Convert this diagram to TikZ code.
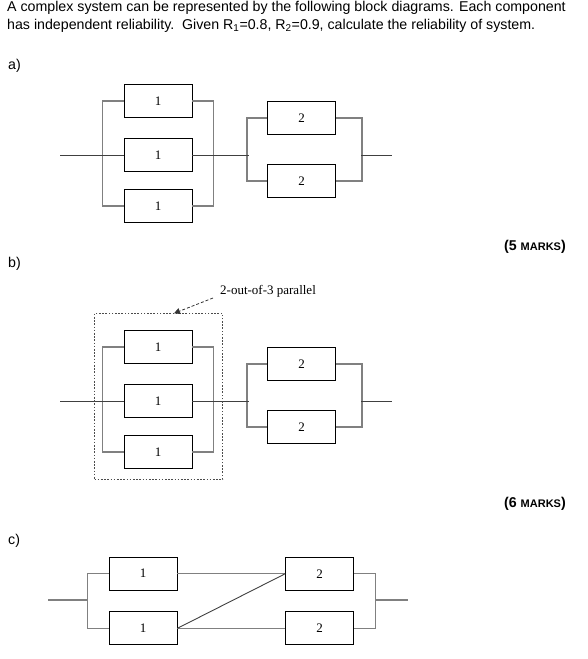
\documentclass[tikz,border=0pt]{standalone}
\usepackage{fontspec}
\setmainfont{Liberation Sans}
\newfontfamily\blockfont{Liberation Serif}
\usetikzlibrary{arrows.meta}

\begin{document}
\begin{tikzpicture}[x=1pt,y=-1pt]
\tikzstyle{block}=[draw,thick,minimum width=68pt,minimum height=33pt,inner sep=0pt,font=\blockfont\fontsize{13}{13}\selectfont];
\tikzstyle{bus}=[draw=gray,line width=1.4pt];
\tikzstyle{wire}=[draw=black!75,line width=0.9pt];
\tikzstyle{txt}=[anchor=west,inner sep=0pt,font=\fontsize{14.2}{14.2}\selectfont];
\useasboundingbox (0,0) rectangle (587,659);

% question text
\node[txt] (q1) at (7,8) {A complex system can be represented by the following block diagrams. Each component};
\node[txt] (q2) at (7,26) {has independent reliability.\ \ Given R\textsubscript{1}=0.8, R\textsubscript{2}=0.9, calculate the reliability of system.};
\node[txt] (pa) at (8,66) {a)};
\node[txt] (pb) at (8,264) {b)};
\node[txt] (pc) at (8,541) {c)};
\node[txt,anchor=east] (ma) at (566,247) {\bfseries(5 {\fontsize{11}{11}\selectfont MARKS})};
\node[txt,anchor=east] (mb) at (566,504) {\bfseries(6 {\fontsize{11}{11}\selectfont MARKS})};

% a) and b): three 1's in parallel, then two 2's in parallel
\foreach \s/\dy in {a/0,b/246} {
  \node[block] (\s1) at (158,101+\dy) {1};
  \node[block] (\s2) at (158,155+\dy) {1};
  \node[block] (\s3) at (158,206+\dy) {1};
  \node[block] (\s4) at (301.5,118+\dy) {2};
  \node[block] (\s5) at (301.5,181+\dy) {2};
  \coordinate (\s in) at (60,155+\dy);
  \coordinate (\s mid) at (249,155+\dy);
  \coordinate (\s end) at (361,155+\dy);
  \coordinate (\s out) at (392,155+\dy);
  \draw[bus] (\s1.west) -- ++(-21,0) |- (\s3.west);
  \draw[bus] (\s1.east) -- ++(21,0) |- (\s3.east);
  \draw[bus] (\s4.west) -- ++(-20,0) |- (\s5.west);
  \draw[bus] (\s4.east) -- ++(26,0) |- (\s5.east);
  \draw[wire] (\s in) -- (\s2.west);
  \draw[wire] (\s2.east) -- (\s mid);
  \draw[wire] (\s end) -- (\s out);
}

% b) the 2-out-of-3 group
\node[draw=black!70,line width=0.9pt,dash pattern=on 1.6pt off 1.6pt,minimum width=128pt,minimum height=166pt] (grp) at (158.5,396.3) {};
\node[font=\blockfont\fontsize{13}{13}\selectfont,anchor=west,inner sep=0pt] (lbl) at (220,291) {2-out-of-3 parallel};
\coordinate (lblend) at (213,298);
\coordinate (tip) at (174,313.3);
\draw[black!80,line width=0.8pt,dash pattern=on 3pt off 2pt,-{Triangle[length=6pt,width=6pt]}] (lblend) -- (tip);

% c) bridge-like network
\node[block] (c1) at (143,573.7) {1};
\node[block] (c2) at (143,628.3) {1};
\node[block] (c3) at (319.7,573.7) {2};
\node[block] (c4) at (319.7,628.3) {2};
\coordinate (cin) at (48,600);
\coordinate (cbus) at (88.3,600);
\coordinate (cend) at (375,600);
\coordinate (cout) at (408,600);
\draw[bus] (c1.west) -- ++(-21,0) |- (c2.west);
\draw[bus] (c3.east) -- ++(21.3,0) |- (c4.east);
\draw[bus] (cin) -- (cbus);
\draw[bus] (cend) -- (cout);
\draw[bus] (c1.east) -- (c3.west);
\draw[bus] (c2.east) -- (c4.west);
\draw[wire] (c2.east) -- (c3.west);
\end{tikzpicture}
\end{document}
